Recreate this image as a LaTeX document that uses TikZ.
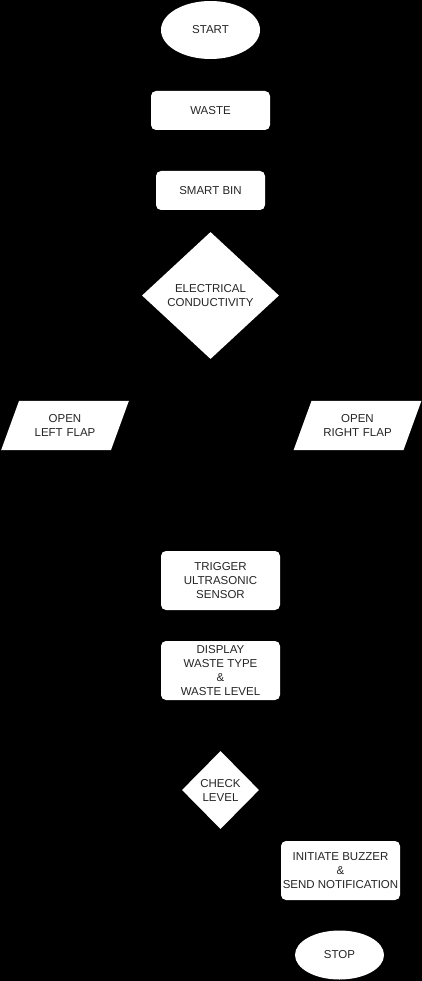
\documentclass[tikz,border=0pt]{standalone}
\usepackage{fontspec}
\setmainfont{Liberation Sans}
\usetikzlibrary{arrows,positioning,shapes.geometric}
\tikzset{%
	terminal/.style = {fill=white, ellipse, minimum width=99pt, minimum height=58pt, inner sep=0pt, text centered},
	process/.style  = {fill=white, rectangle, rounded corners=5pt, minimum width=119pt, minimum height=39pt, inner sep=0pt, align=center},
	decision/.style = {fill=white, diamond, inner sep=0pt, align=center},
	inout/.style    = {fill=white, trapezium, trapezium left angle=70, trapezium right angle=110, text width=70pt, inner xsep=11pt, inner ysep=13.5pt, align=center},
	arrow/.style    = {black, -latex, shorten >=2pt, shorten <=2pt},
}

\begin{document}
\begin{tikzpicture}[x=1pt,y=-1pt,every node/.style={font=\fontsize{11.5}{14}\selectfont, text=black!85}]
		% background
		\fill[black] (0,0) rectangle (422,981);
		
		% sorting part
		\node[terminal] (start) at (210.5,30) {START};
		\node[process] (waste) at (210.5,110.5) {WASTE};
		\node[process, minimum width=109pt] (bin) at (210.5,190.5) {SMART BIN};
		\node[decision, aspect=1.08, minimum width=137pt, minimum height=127pt] (cond) at (210.5,295.5) {ELECTRICAL\\CONDUCTIVITY};
		\node[inout] (left) at (65,425.5) {OPEN\\LEFT FLAP};
		\node[inout] (right) at (357.5,425.5) {OPEN\\RIGHT FLAP};
		
		% level part
		\node[process, minimum height=59pt] (trigger) at (220.5,580.5) {TRIGGER\\ULTRASONIC\\SENSOR};
		\node[process, minimum height=59pt] (display) at (220.5,670.5) {DISPLAY\\WASTE TYPE\\\&\\WASTE LEVEL};
		\node[decision, minimum width=77pt, minimum height=78pt] (check) at (220.5,790) {CHECK\\LEVEL};
		\node[process, minimum height=59pt] (buzzer) at (340.5,870.5) {INITIATE BUZZER\\\&\\SEND NOTIFICATION};
		\node[terminal, minimum width=89pt, minimum height=49pt] (stop) at (339.5,955) {STOP};
		
		% connectors
		\draw[arrow] (start) -- (waste);
		\draw[arrow] (waste) -- (bin);
		\draw[arrow] (bin) -- (cond);
		\draw[arrow] (cond.west) -| (left.north);
		\draw[arrow] (cond.east) -| (right.north);
		\draw[arrow] (left.south) |- (trigger.west);
		\draw[arrow] (right.south) |- (trigger.east);
		\draw[arrow] (trigger) -- (display);
		\draw[arrow] (display) -- (check);
		\draw[arrow] (check.east) -| (buzzer.north);
		\draw[arrow] (buzzer) -- (stop);
		
\end{tikzpicture}
\end{document}
